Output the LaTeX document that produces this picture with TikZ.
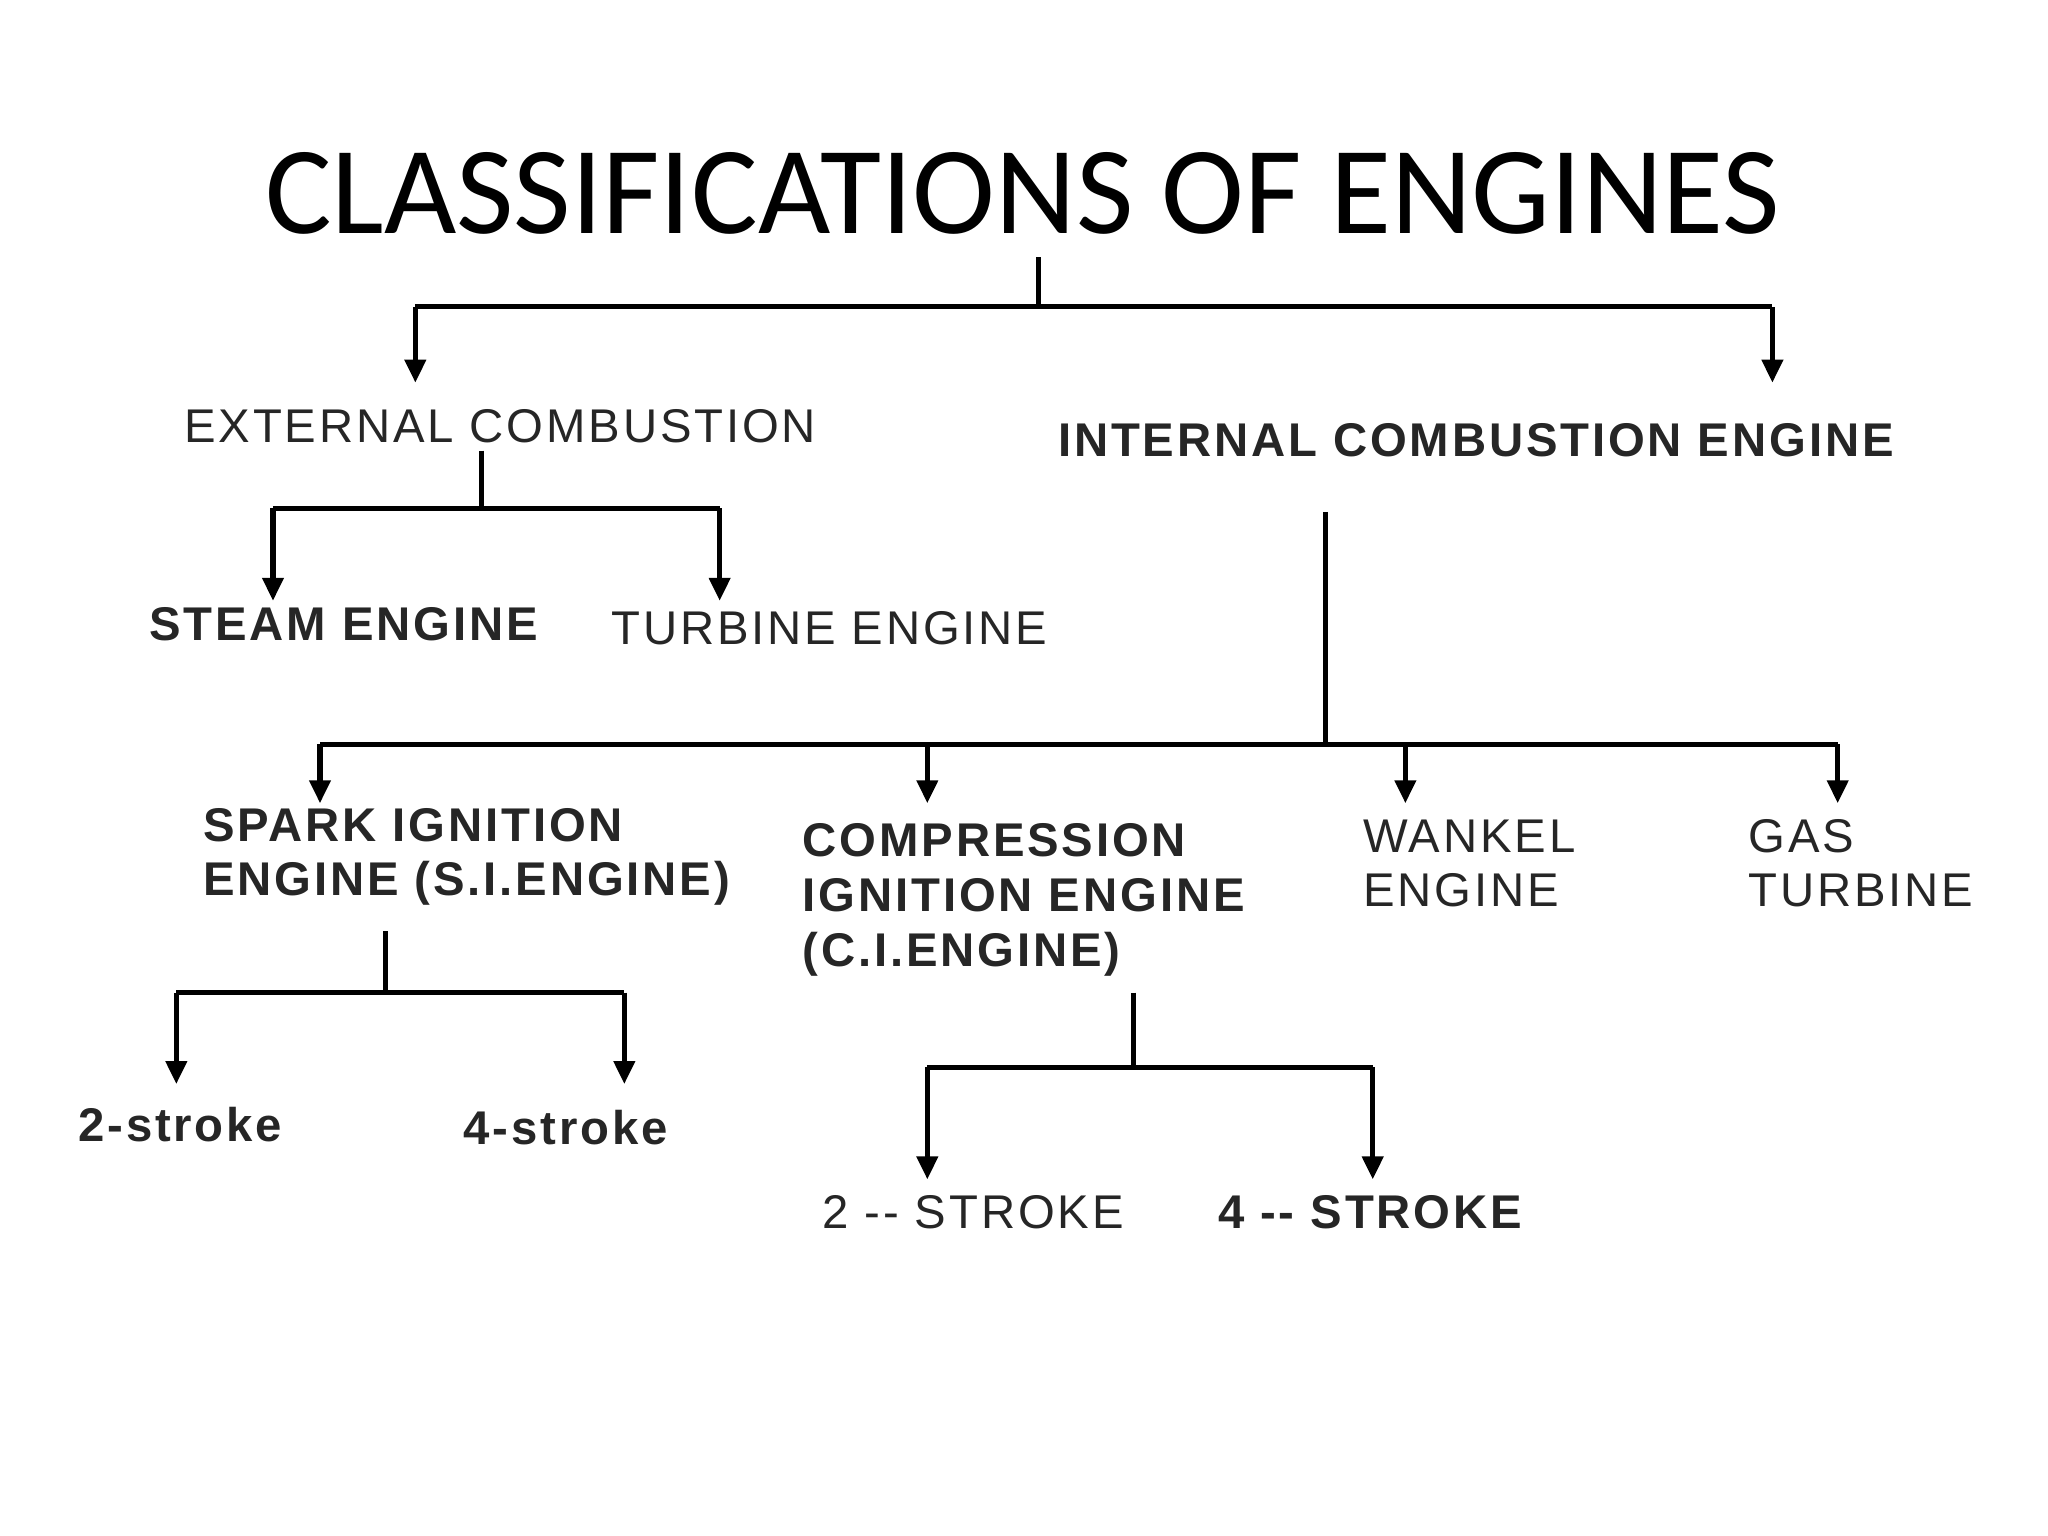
\documentclass[tikz,border=0pt]{standalone}
\usepackage{fontspec}
\setmainfont{Liberation Sans}
\newfontfamily\labfont[LetterSpace=6]{Liberation Sans}
\newfontfamily\titlefont{Carlito}
\usetikzlibrary{arrows.meta}
\begin{document}
\begin{tikzpicture}[x=0.01cm,y=-0.01cm,
  ln/.style={line width=1.1pt,black},
  ar/.style={ln,-{Triangle[length=5pt,width=4.5pt]}},
  lab/.style={font=\labfont\fontsize{10.3}{11.9}\selectfont,inner sep=0pt,text=black!85},
  blab/.style={lab,font=\labfont\fontsize{10.3}{11.9}\selectfont\bfseries,text=black!85},
  ml/.style={align=left,anchor=west}]
\useasboundingbox (0,0) rectangle (1568,1176);
\node[font=\titlefont\fontsize{27.2}{30}\selectfont,inner sep=0pt] (title) at (783,148) {CLASSIFICATIONS OF ENGINES};
\node[lab] (ext) at (383,326) {EXTERNAL COMBUSTION};
\node[blab] (ice) at (1130,337) {INTERNAL COMBUSTION ENGINE};
\node[blab] (steam) at (263,478) {STEAM ENGINE};
\node[lab] (turb) at (635,481) {TURBINE ENGINE};
\node[blab,ml] (si) at (155,656) {SPARK IGNITION\\ENGINE (S.I.ENGINE)};
\node[blab,ml] (ci) at (614,689) {COMPRESSION\\IGNITION ENGINE\\(C.I.ENGINE)};
\node[lab,ml] (wan) at (1043,661) {WANKEL\\ENGINE};
\node[lab,ml] (gas) at (1338,661) {GAS\\TURBINE};
\node[blab] (s2) at (138,861) {2-stroke};
\node[blab] (s4) at (433,863) {4-stroke};
\node[lab] (c2) at (745,928) {2 -- STROKE};
\node[blab] (c4) at (1049,928) {4 -- STROKE};
% top
\coordinate (t0) at (795,197); \coordinate (tj) at (795,235);
\coordinate (tl) at (318,235); \coordinate (tr) at (1357,235);
\draw[ln] (t0) -- (tj); \draw[ln] (tl) -- (tr);
\draw[ar] (tl) -- (318,293); \draw[ar] (tr) -- (1357,293);
% external
\coordinate (e0) at (369,345); \coordinate (ej) at (369,389);
\coordinate (el) at (209,389); \coordinate (er) at (551,389);
\draw[ln] (e0) -- (ej); \draw[ln] (el) -- (er);
\draw[ar] (el) -- (209,460); \draw[ar] (er) -- (551,460);
% internal
\coordinate (i0) at (1015,392); \coordinate (ij) at (1015,570);
\coordinate (i1) at (245,570); \coordinate (i2) at (710,570);
\coordinate (i3) at (1076,570); \coordinate (i4) at (1407,570);
\draw[ln] (i0) -- (ij); \draw[ln] (i1) -- (i4);
\foreach \c/\x in {i1/245,i2/710,i3/1076,i4/1407} \draw[ar] (\c) -- (\x,615);
% SI
\coordinate (s0) at (295,713); \coordinate (sj) at (295,760);
\coordinate (sl) at (135,760); \coordinate (sr) at (478,760);
\draw[ln] (s0) -- (sj); \draw[ln] (sl) -- (sr);
\draw[ar] (sl) -- (135,830); \draw[ar] (sr) -- (478,830);
% CI
\coordinate (c0) at (868,760); \coordinate (cj) at (868,817);
\coordinate (cl) at (710,817); \coordinate (cr) at (1051,817);
\draw[ln] (c0) -- (cj); \draw[ln] (cl) -- (cr);
\draw[ar] (cl) -- (710,903); \draw[ar] (cr) -- (1051,903);
\end{tikzpicture}
\end{document}
